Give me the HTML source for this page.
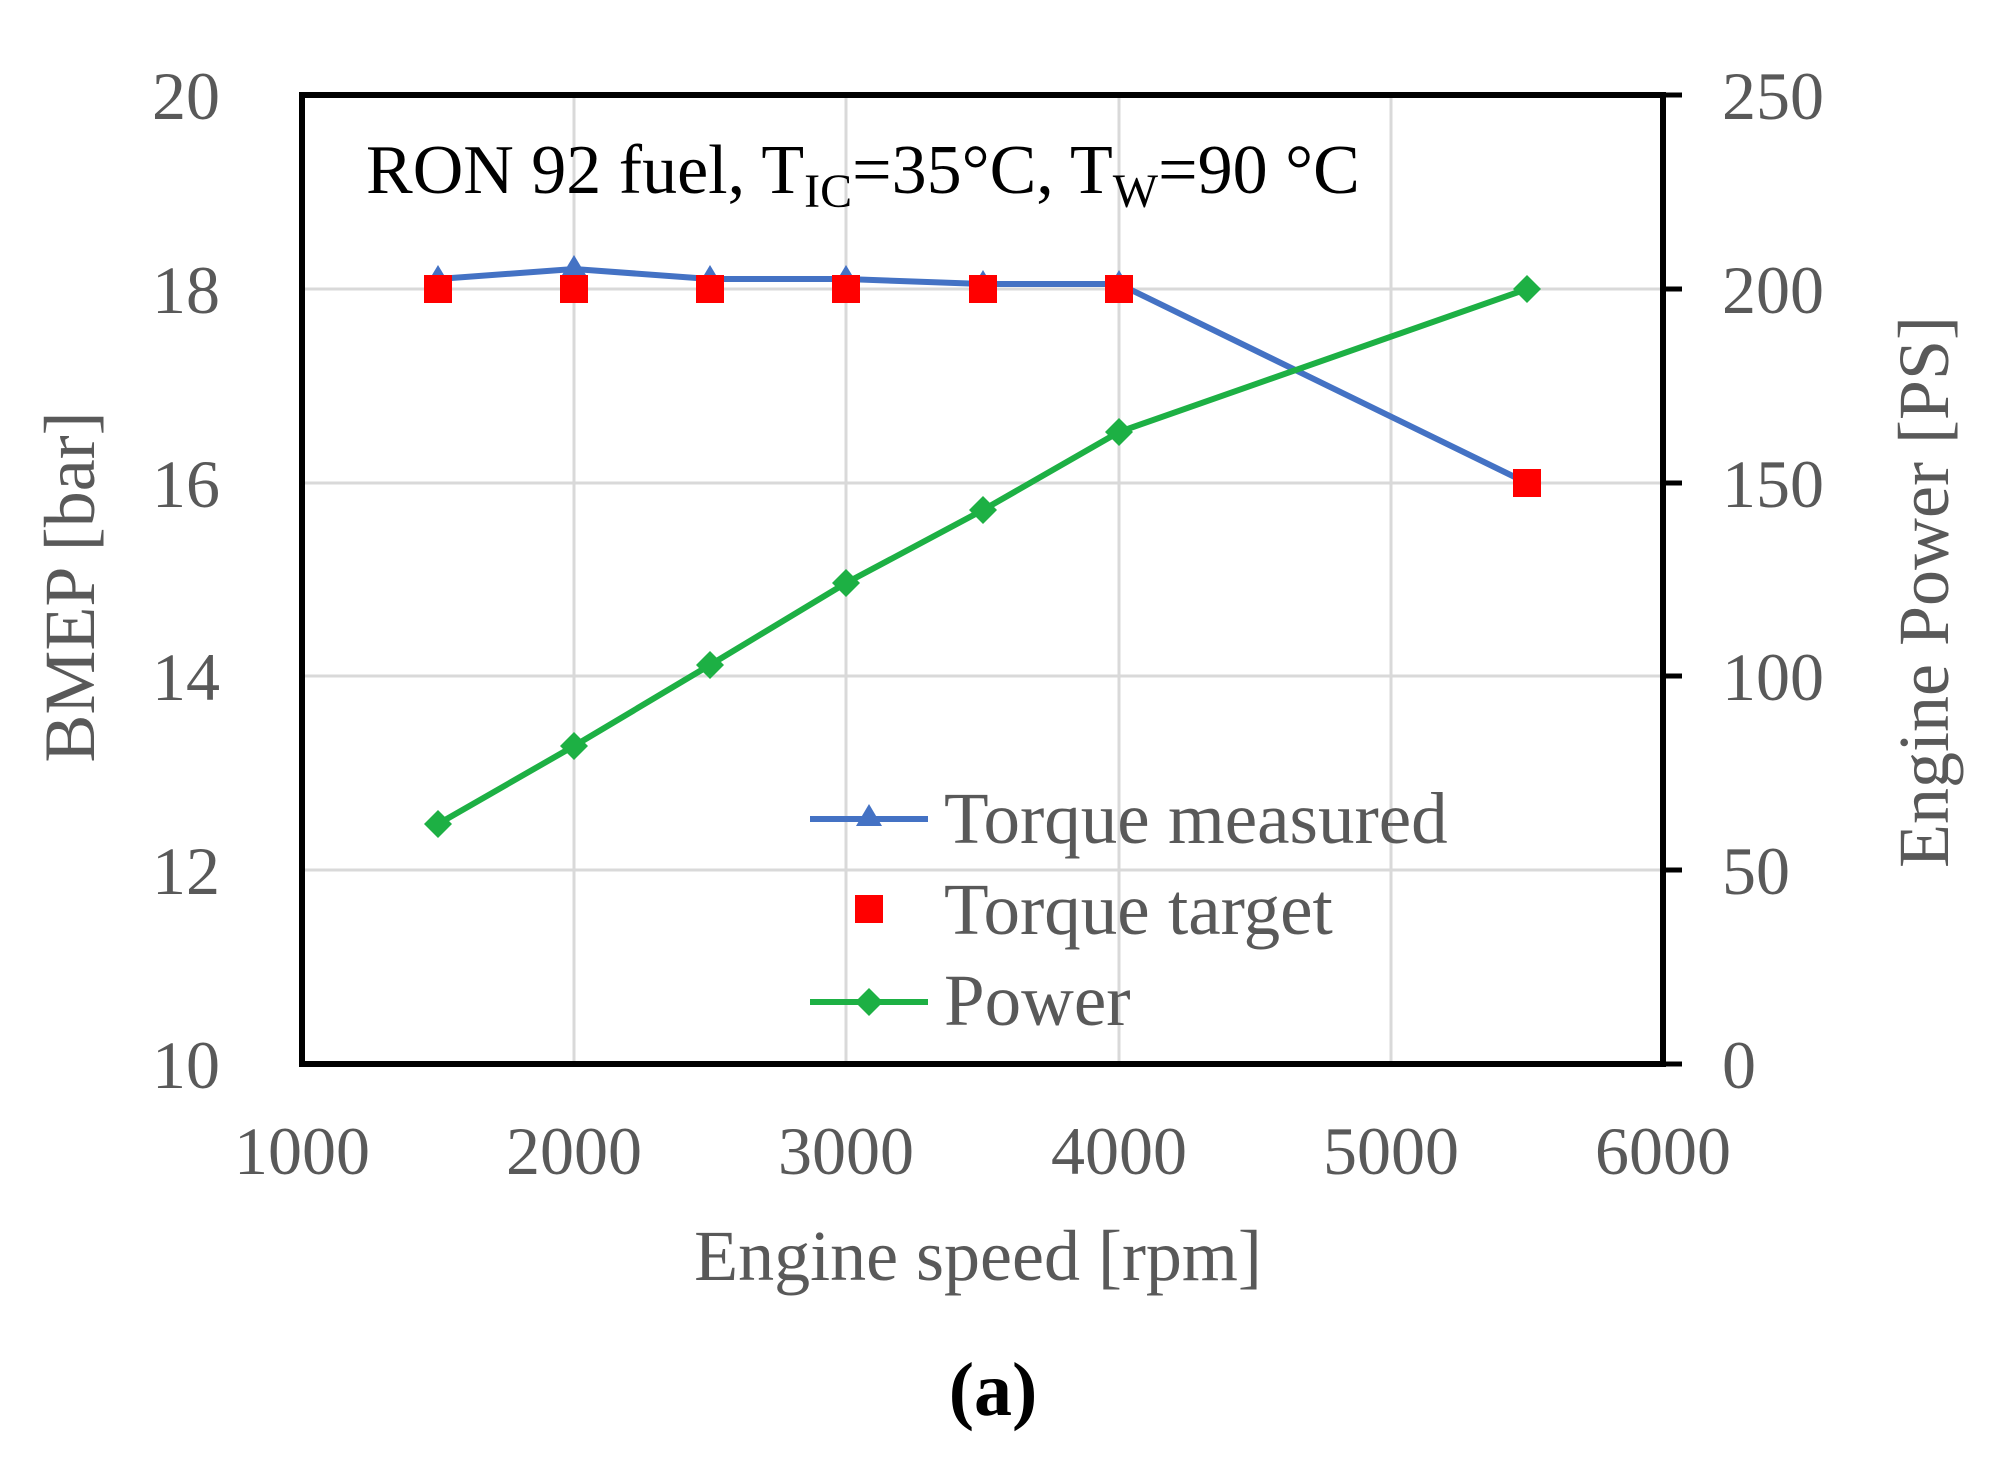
<!DOCTYPE html>
<html><head><meta charset="utf-8"><style>html,body{margin:0;padding:0;background:#fff}</style></head>
<body>
<svg width="2008" height="1460" viewBox="0 0 2008 1460" xmlns="http://www.w3.org/2000/svg" font-family="'Liberation Serif', serif">
<rect width="2008" height="1460" fill="#fff"/>
<g stroke="#d9d9d9" stroke-width="3">
<line x1="302" y1="289" x2="1663" y2="289"/><line x1="302" y1="483" x2="1663" y2="483"/>
<line x1="302" y1="676" x2="1663" y2="676"/><line x1="302" y1="870" x2="1663" y2="870"/>
<line x1="574" y1="95" x2="574" y2="1064"/><line x1="846" y1="95" x2="846" y2="1064"/>
<line x1="1119" y1="95" x2="1119" y2="1064"/><line x1="1391" y1="95" x2="1391" y2="1064"/>
</g>
<rect x="302" y="95" width="1361" height="969" fill="none" stroke="#000" stroke-width="6"/>
<g stroke="#000" stroke-width="5">
<line x1="1663" y1="95" x2="1682" y2="95"/><line x1="1663" y1="289" x2="1682" y2="289"/><line x1="1663" y1="483" x2="1682" y2="483"/><line x1="1663" y1="676" x2="1682" y2="676"/><line x1="1663" y1="870" x2="1682" y2="870"/><line x1="1663" y1="1064" x2="1682" y2="1064"/>
</g>
<g fill="#595959" font-size="68" text-anchor="end">
<text x="220" y="119">20</text><text x="220" y="313">18</text><text x="220" y="507">16</text><text x="220" y="700">14</text><text x="220" y="894">12</text><text x="220" y="1088">10</text>
</g>
<g fill="#595959" font-size="68" text-anchor="start">
<text x="1722" y="119">250</text><text x="1722" y="313">200</text><text x="1722" y="507">150</text><text x="1722" y="700">100</text><text x="1722" y="894">50</text><text x="1722" y="1088">0</text>
</g>
<g fill="#595959" font-size="68" text-anchor="middle">
<text x="302" y="1174">1000</text><text x="574" y="1174">2000</text><text x="846" y="1174">3000</text><text x="1119" y="1174">4000</text><text x="1391" y="1174">5000</text><text x="1663" y="1174">6000</text>
<text x="978" y="1280" font-size="72">Engine speed [rpm]</text>
<text transform="translate(94,587) rotate(-90)" font-size="72">BMEP [bar]</text>
<text transform="translate(1948,592) rotate(-90)" font-size="72">Engine Power [PS]</text>
</g>
<text x="993" y="1415" font-size="76" font-weight="bold" text-anchor="middle">(a)</text>
<text x="366" y="193" font-size="70">RON 92 fuel, T<tspan font-size="48" dy="14">IC</tspan><tspan dy="-14">=35°C,  T</tspan><tspan font-size="48" dy="14">W</tspan><tspan dy="-14">=90 °C</tspan></text>
<polyline points="438,279 574,269 710,279 846,279 983,284 1119,284 1527,483" fill="none" stroke="#4472c4" stroke-width="6"/>
<g fill="#4472c4">
<polygon points="438,265 426,285 450,285"/><polygon points="574,255 562,275 586,275"/><polygon points="710,265 698,285 722,285"/><polygon points="846,265 834,285 858,285"/><polygon points="983,270 971,290 995,290"/><polygon points="1119,270 1107,290 1131,290"/>
</g>
<polyline points="438,824 574,746 710,665 846,583 983,510 1119,432 1527,289" fill="none" stroke="#1db044" stroke-width="6"/>
<g fill="#1db044">
<polygon points="438,810 452,824 438,838 424,824"/><polygon points="574,732 588,746 574,760 560,746"/><polygon points="710,651 724,665 710,679 696,665"/><polygon points="846,569 860,583 846,597 832,583"/><polygon points="983,496 997,510 983,524 969,510"/><polygon points="1119,418 1133,432 1119,446 1105,432"/><polygon points="1527,275 1541,289 1527,303 1513,289"/>
</g>
<g fill="#ff0000">
<rect x="424" y="275" width="28" height="28"/><rect x="560" y="275" width="28" height="28"/><rect x="696" y="275" width="28" height="28"/><rect x="832" y="275" width="28" height="28"/><rect x="969" y="275" width="28" height="28"/><rect x="1105" y="275" width="28" height="28"/><rect x="1513" y="469" width="28" height="28"/>
</g>
<line x1="810" y1="819" x2="928" y2="819" stroke="#4472c4" stroke-width="6"/>
<polygon points="869,804 856,826 882,826" fill="#4472c4"/>
<rect x="855" y="895" width="28" height="28" fill="#ff0000"/>
<line x1="810" y1="1002" x2="928" y2="1002" stroke="#1db044" stroke-width="6"/>
<polygon points="869,988 883,1002 869,1016 855,1002" fill="#1db044"/>
<g fill="#595959" font-size="73">
<text x="944" y="843">Torque measured</text><text x="944" y="934">Torque target</text><text x="944" y="1025">Power</text>
</g>
</svg>
</body></html>
